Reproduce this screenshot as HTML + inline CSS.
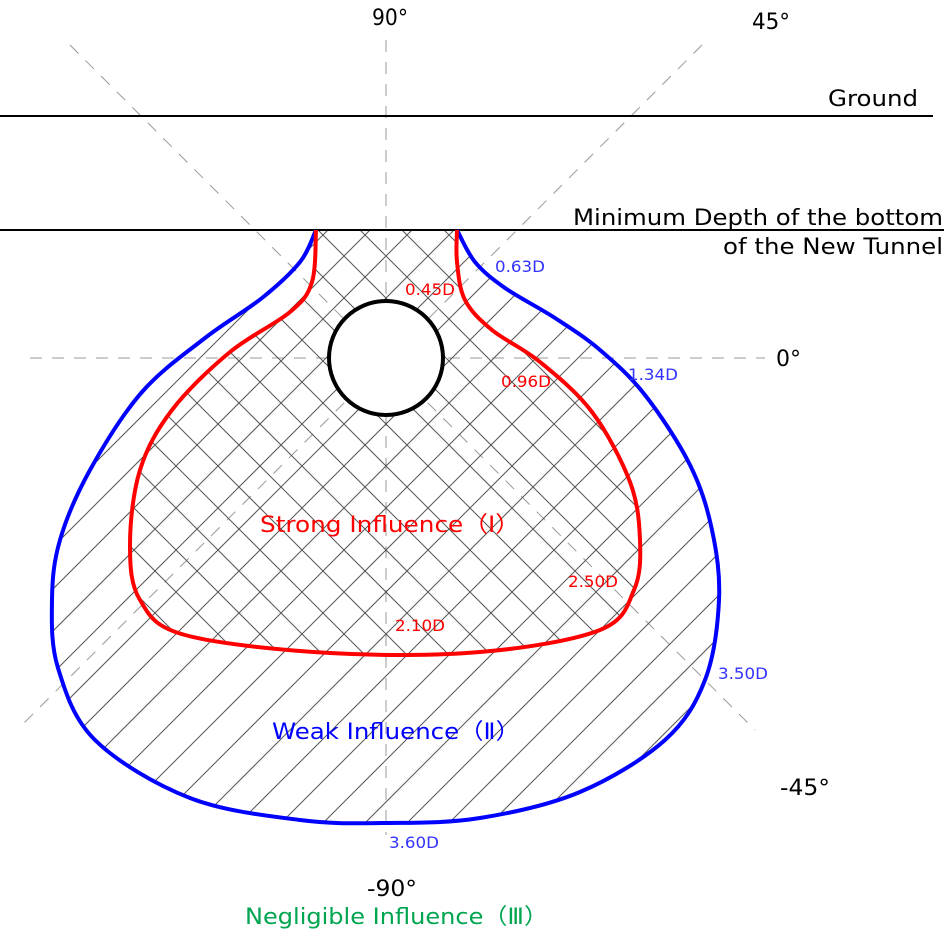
<!DOCTYPE html>
<html><head><meta charset="utf-8"><style>
html,body{margin:0;padding:0;background:#fff;overflow:hidden;width:944px;height:932px;}
svg{display:block;font-family:"DejaVu Sans","Noto Sans CJK SC",sans-serif;}
</style></head><body>
<svg id="fig" width="944" height="932" viewBox="0 0 944 932" xmlns="http://www.w3.org/2000/svg">
<defs>
<clipPath id="blueClip"><path id="blueClipPath"/></clipPath>
<clipPath id="redClip"><path id="redClipPath"/></clipPath>
</defs>
<g id="axes" stroke="#999" stroke-width="1" stroke-dasharray="12,10" fill="none">
<line x1="386" y1="40" x2="386" y2="835"/>
<line x1="30" y1="358" x2="765" y2="358"/>
<line x1="70" y1="45" x2="755" y2="730"/>
<line x1="702" y1="45" x2="20" y2="727"/>
</g>
<g id="hatchBlue" clip-path="url(#blueClip)" stroke="#555" stroke-width="1"></g>
<g id="hatchRed" clip-path="url(#redClip)" stroke="#555" stroke-width="1"></g>
<line x1="0" y1="116" x2="933" y2="116" stroke="#000" stroke-width="2"/>
<line x1="0" y1="230" x2="944" y2="230" stroke="#000" stroke-width="2"/>
<path id="blueCurve" fill="none" stroke="#0000ff" stroke-width="4"/>
<path id="redCurve" fill="none" stroke="#ff0000" stroke-width="4"/>
<circle cx="386" cy="358" r="57" fill="#fff" stroke="#000" stroke-width="4"/>
<g font-size="22" fill="#000">
<text x="372" y="25" textLength="36" lengthAdjust="spacingAndGlyphs">90°</text>
<text x="752" y="29" textLength="38" lengthAdjust="spacingAndGlyphs">45°</text>
<text x="776" y="366" textLength="25" lengthAdjust="spacingAndGlyphs">0°</text>
<text x="780" y="795" textLength="50" lengthAdjust="spacingAndGlyphs">-45°</text>
<text x="367" y="896" textLength="50" lengthAdjust="spacingAndGlyphs">-90°</text>
<text x="828" y="106" textLength="90" lengthAdjust="spacingAndGlyphs">Ground</text>
<text x="573" y="225" textLength="370" lengthAdjust="spacingAndGlyphs">Minimum Depth of the bottom</text>
<text x="723" y="254" textLength="220" lengthAdjust="spacingAndGlyphs">of the New Tunnel</text>
</g>
<text x="260" y="532" font-size="22" fill="#ff0000" textLength="260" lengthAdjust="spacingAndGlyphs">Strong Influence（Ⅰ）</text>
<text x="272" y="739" font-size="22" fill="#0000ff" textLength="248" lengthAdjust="spacingAndGlyphs">Weak Influence（Ⅱ）</text>
<text x="245" y="924" font-size="22" fill="#00a550" textLength="303" lengthAdjust="spacingAndGlyphs">Negligible Influence（Ⅲ）</text>
<g id="distLabels" font-size="16"></g>
</svg>
<script>
const blueX=[316,300,262,205,142,90,60,52,58,95,190,300,386,480,580,665,705,719,712,690,645,600,555,505,475,457];
const blueY=[230,262,298,338,392,470,540,600,668,740,798,820,823,818,792,740,680,600,530,465,395,350,318,288,262,230];
const redX=[316,312,290,230,172,140,130,140,185,330,480,600,634,640,630,592,540,492,465,457,457];
const redY=[230,282,312,352,410,470,545,600,635,653,652,630,590,540,482,412,362,330,300,262,230];
const labelText=["0.63D","0.45D","0.96D","1.34D","2.50D","2.10D","3.50D","3.60D"];
const labelX=[520,430,526,653,593,420,743,414];
const labelY=[272,295,387,380,587,631,679,848];
const labelColor=["#3333ff","#ff0000","#ff0000","#3333ff","#ff0000","#ff0000","#3333ff","#3333ff"];

function spline(xs,ys,close){
  let d="M"+xs[0]+","+ys[0];
  const n=xs.length;
  for(let i=0;i<n-1;i++){
    const p0=[xs[Math.max(i-1,0)],ys[Math.max(i-1,0)]];
    const p1=[xs[i],ys[i]],p2=[xs[i+1],ys[i+1]];
    const p3=[xs[Math.min(i+2,n-1)],ys[Math.min(i+2,n-1)]];
    const c1=[p1[0]+(p2[0]-p0[0])/6,p1[1]+(p2[1]-p0[1])/6];
    const c2=[p2[0]-(p3[0]-p1[0])/6,p2[1]-(p3[1]-p1[1])/6];
    d+=" C"+c1[0].toFixed(1)+","+c1[1].toFixed(1)+" "+c2[0].toFixed(1)+","+c2[1].toFixed(1)+" "+p2[0]+","+p2[1];
  }
  return close?d+" Z":d;
}
const bd=spline(blueX,blueY,false), rd=spline(redX,redY,false);
document.getElementById('blueCurve').setAttribute('d',bd);
document.getElementById('redCurve').setAttribute('d',rd);
document.getElementById('blueClipPath').setAttribute('d',bd+" Z");
document.getElementById('redClipPath').setAttribute('d',rd+" Z");
const NS="http://www.w3.org/2000/svg";
const hb=document.getElementById('hatchBlue'), hr=document.getElementById('hatchRed');
for(let c=12-42*30;c<2000;c+=42){
  const l=document.createElementNS(NS,'line');
  l.setAttribute('x1',c-1000);l.setAttribute('y1',1000);l.setAttribute('x2',c);l.setAttribute('y2',0);
  
  
  hb.appendChild(l);
}
for(let c=4-42*30;c<2000;c+=42){
  const l=document.createElementNS(NS,'line');
  l.setAttribute('x1',c);l.setAttribute('y1',0);l.setAttribute('x2',c+1000);l.setAttribute('y2',1000);
  
  
  hr.appendChild(l);
}
const g=document.getElementById('distLabels');
for(let i=0;i<labelText.length;i++){
  const t=document.createElementNS(NS,'text');
  t.setAttribute('x',labelX[i]-25);t.setAttribute('y',labelY[i]);
  t.setAttribute('textLength',50);t.setAttribute('lengthAdjust','spacingAndGlyphs');
  t.setAttribute('fill',labelColor[i]);
  t.textContent=labelText[i];
  
  
  g.appendChild(t);
}
</script>
</body></html>
